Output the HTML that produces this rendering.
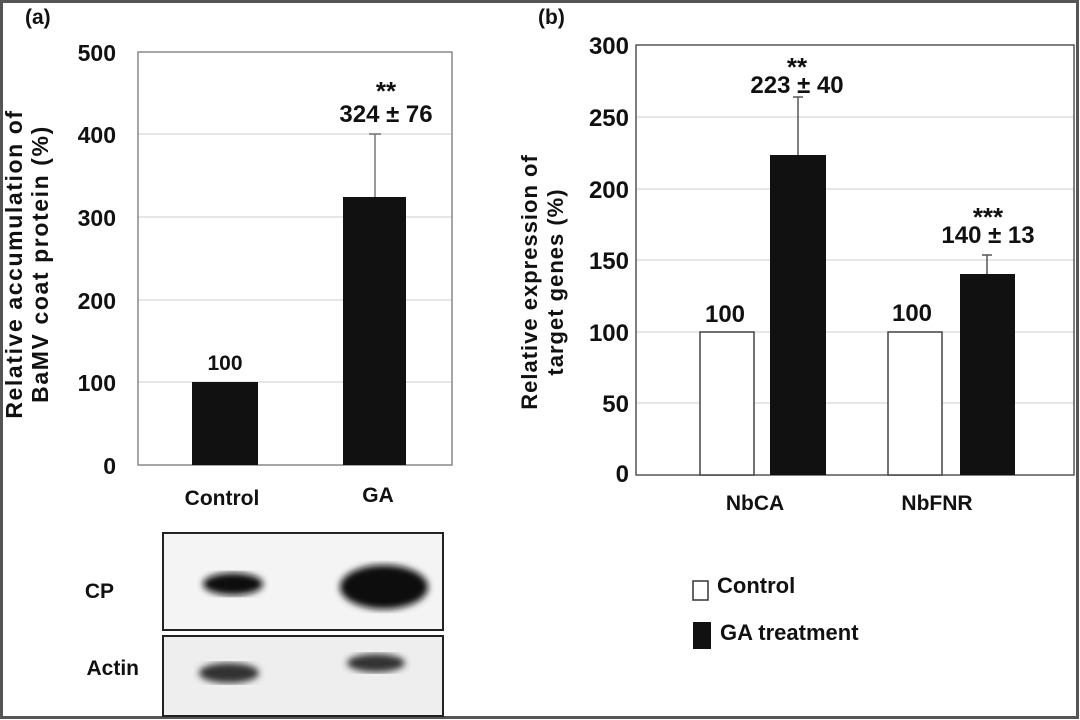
<!DOCTYPE html>
<html><head><meta charset="utf-8"><style>
body{margin:0;background:#fff}
svg{display:block}
text{font-family:"Liberation Sans",Arial,sans-serif;font-weight:bold;fill:#111}
</style></head><body>
<svg width="1080" height="720" viewBox="0 0 1080 720">
<rect x="0" y="0" width="1080" height="720" fill="#fff"/>
<rect x="1.5" y="1.5" width="1076" height="716" fill="none" stroke="#555" stroke-width="3"/>
<!-- Panel a -->
<text x="25" y="24" font-size="21">(a)</text>
<g stroke="#ddd" stroke-width="1.5">
<line x1="138" y1="134" x2="452" y2="134"/><line x1="138" y1="217" x2="452" y2="217"/>
<line x1="138" y1="300" x2="452" y2="300"/><line x1="138" y1="382" x2="452" y2="382"/>
</g>
<rect x="138" y="52" width="314" height="413" fill="none" stroke="#888" stroke-width="1.5"/>
<g font-size="23" text-anchor="end">
<text x="116" y="61">500</text><text x="116" y="143">400</text><text x="116" y="226">300</text>
<text x="116" y="309">200</text><text x="116" y="391">100</text><text x="116" y="474">0</text>
</g>
<text transform="translate(22,264) rotate(-90)" font-size="23" letter-spacing="1.6" text-anchor="middle">Relative accumulation of</text>
<text transform="translate(48,264) rotate(-90)" font-size="23" letter-spacing="1.6" text-anchor="middle">BaMV coat protein (%)</text>
<rect x="192" y="382" width="66" height="83" fill="#111"/>
<rect x="343" y="197" width="63" height="268" fill="#111"/>
<line x1="375" y1="197" x2="375" y2="134" stroke="#777" stroke-width="1.5"/>
<line x1="369" y1="134" x2="381" y2="134" stroke="#777" stroke-width="1.5"/>
<text x="225" y="370" font-size="21" text-anchor="middle">100</text>
<text x="386" y="100" font-size="26" text-anchor="middle" font-weight="normal">**</text>
<text x="386" y="122" font-size="24" text-anchor="middle" font-weight="normal">324 ± 76</text>
<text x="222" y="505" font-size="21" text-anchor="middle">Control</text>
<text x="378" y="502" font-size="21" text-anchor="middle">GA</text>
<!-- blots -->
<defs><filter id="b"><feGaussianBlur stdDeviation="3.5"/></filter></defs>
<rect x="163" y="533" width="280" height="97" fill="#f4f4f4" stroke="#222" stroke-width="2"/>
<ellipse cx="233" cy="584" rx="30" ry="11" fill="#111" filter="url(#b)"/>
<ellipse cx="384" cy="587" rx="44" ry="22" fill="#111" filter="url(#b)"/>
<rect x="163" y="636" width="280" height="80" fill="#eee" stroke="#222" stroke-width="2"/>
<ellipse cx="229" cy="673" rx="30" ry="10" fill="#333" filter="url(#b)"/>
<ellipse cx="376" cy="663" rx="29" ry="9" fill="#333" filter="url(#b)"/>
<text x="114" y="598" font-size="21" text-anchor="end">CP</text>
<text x="139" y="675" font-size="21" text-anchor="end">Actin</text>
<!-- Panel b -->
<text x="538" y="24" font-size="21">(b)</text>
<g stroke="#ddd" stroke-width="1.5">
<line x1="636" y1="117" x2="1074" y2="117"/><line x1="636" y1="189" x2="1074" y2="189"/>
<line x1="636" y1="260" x2="1074" y2="260"/><line x1="636" y1="332" x2="1074" y2="332"/>
<line x1="636" y1="403" x2="1074" y2="403"/>
</g>
<rect x="636" y="45" width="438" height="430" fill="none" stroke="#555" stroke-width="1.5"/>
<g font-size="24" text-anchor="end" font-weight="normal">
<text x="629" y="54">300</text><text x="629" y="126">250</text><text x="629" y="198">200</text>
<text x="629" y="269">150</text><text x="629" y="341">100</text><text x="629" y="412">50</text><text x="629" y="482">0</text>
</g>
<text transform="translate(537,282) rotate(-90)" font-size="22" letter-spacing="1" text-anchor="middle">Relative expression of</text>
<text transform="translate(563,282) rotate(-90)" font-size="22" letter-spacing="1" text-anchor="middle">target genes (%)</text>
<rect x="700" y="332" width="54" height="143" fill="#fff" stroke="#444" stroke-width="1.5"/>
<rect x="770" y="155" width="56" height="320" fill="#111"/>
<rect x="888" y="332" width="54" height="143" fill="#fff" stroke="#444" stroke-width="1.5"/>
<rect x="960" y="274" width="55" height="201" fill="#111"/>
<g stroke="#555" stroke-width="1.5">
<line x1="798" y1="155" x2="798" y2="97"/><line x1="793" y1="97" x2="803" y2="97"/>
<line x1="987" y1="274" x2="987" y2="255"/><line x1="982" y1="255" x2="992" y2="255"/>
</g>
<g font-size="24" text-anchor="middle" font-weight="normal">
<text x="725" y="322">100</text><text x="912" y="321">100</text>
<text x="797" y="76" font-size="26">**</text><text x="797" y="93">223 ± 40</text>
<text x="988" y="226" font-size="26">***</text><text x="988" y="243">140 ± 13</text>
</g>
<text x="755" y="510" font-size="21" text-anchor="middle">NbCA</text>
<text x="937" y="510" font-size="21" text-anchor="middle">NbFNR</text>
<rect x="693" y="581" width="15" height="19" fill="#fff" stroke="#333" stroke-width="1.5"/>
<text x="717" y="593" font-size="22">Control</text>
<rect x="693" y="622" width="18" height="27" fill="#111"/>
<text x="720" y="640" font-size="22">GA treatment</text>
</svg>
</body></html>
